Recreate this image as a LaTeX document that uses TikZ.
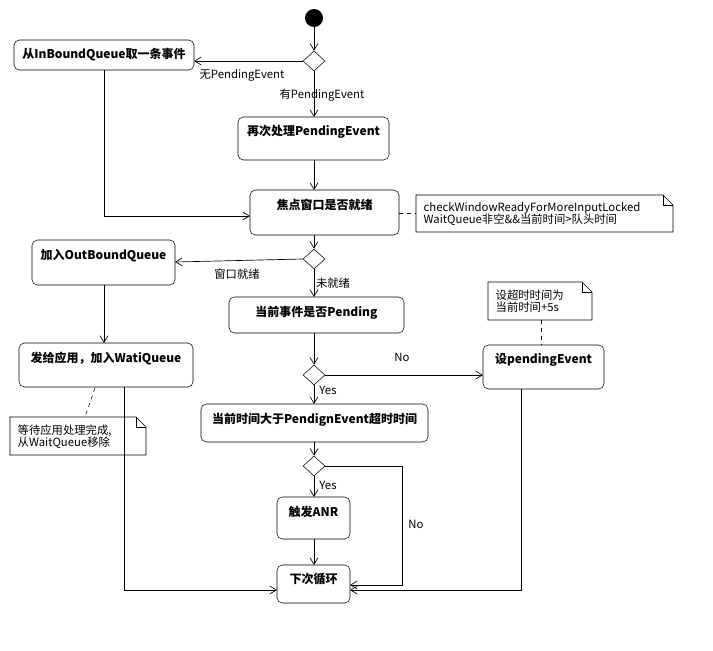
\documentclass[tikz,border=0pt]{standalone}
\usepackage{fontspec}
\setmainfont{Noto Sans CJK SC}
\usetikzlibrary{arrows.meta,shapes.geometric}
\begin{document}
\begin{tikzpicture}[x=0.75pt,y=-0.75pt,
  act/.style={draw,rounded corners=4pt,font=\bfseries\fontsize{9}{10}\selectfont,inner sep=0pt},
  dia/.style={draw,diamond,minimum width=16.5pt,minimum height=15pt,inner sep=0pt},
  arr/.style={-{Straight Barb[length=5pt,width=6pt]},line width=0.5pt},
  lab/.style={font=\fontsize{8.5}{10}\selectfont,inner sep=1pt},
  notebox/.style={font=\fontsize{8.5}{11}\selectfont,align=left}]
\useasboundingbox (0,0) rectangle (713,650);
\newcommand{\actbox}[6]{% name, x1,y1,x2,y2,text
  \draw[rounded corners=4pt] (#2,#3) rectangle (#4,#5);
  \coordinate (#1) at ({(#2+#4)/2},{(#3+#5)/2});
  \node[font=\bfseries\fontsize{9}{10}\selectfont,anchor=north] at ({(#2+#4)/2},{#3+4}) {#6};}
\newcommand{\notebx}[5]{% x1 y1 x2 y2 text
  \draw (#1,#2) -- ({#3-10},#2) -- (#3,{#2+10}) -- (#3,#4) -- (#1,#4) -- cycle;
  \draw ({#3-10},#2) -- ({#3-10},{#2+10}) -- (#3,{#2+10});
  \node[notebox,anchor=north west] at ({#1+3},{#2+3}) {#5};}
\fill (314,18) circle (6.75pt) coordinate (start);
\node[dia] (d1) at (314,61) {};
\node[dia] (d2) at (314,259) {};
\node[dia] (d3) at (314,375) {};
\node[dia] (d4) at (314,466) {};
\actbox{b1}{14}{40}{194}{70}{从InBoundQueue取一条事件}
\actbox{b2}{238}{117}{389}{160}{再次处理PendingEvent}
\actbox{b3}{250}{190}{399}{235}{焦点窗口是否就绪}
\actbox{b4}{32}{240}{175}{285}{加入OutBoundQueue}
\actbox{b5}{229}{297}{404}{333}{当前事件是否Pending}
\actbox{b6}{19}{343}{193}{387}{发给应用，加入WatiQueue}
\actbox{b7}{483}{345}{604}{389}{设pendingEvent}
\actbox{b8}{201}{404}{428}{442}{当前时间大于PendignEvent超时时间}
\actbox{b9}{277}{497}{350}{539}{触发ANR}
\actbox{b10}{277}{565}{350}{603}{下次循环}
\notebx{416}{195}{673}{232}{checkWindowReadyForMoreInputLocked\\[-2pt]WaitQueue非空\&\&当前时间>队头时间}
\notebx{10}{417}{146}{455}{等待应用处理完成,\\[-2pt]从WaitQueue移除}
\notebx{488}{282}{592}{320}{设超时时间为\\[-2pt]当前时间+5s}
\draw[dashed] (399,213) -- (416,213);
\draw[dashed] (95,388) -- (85,417);
\draw[dashed] (541,320) -- (541,345);
\draw[arr] (314,27) -- (d1.north);
\draw[arr] (d1.west) -- (194,61);
\node[lab,anchor=west] at (198,75) {无PendingEvent};
\draw[arr] (d1.south) -- (314,117);
\node[lab,anchor=west] at (278,95) {有PendingEvent};
\draw[arr] (314,160) -- (314,190);
\draw[arr] (104,70) -- (104,216) -- (250,216);
\draw[arr] (314,235) -- (d2.north);
\draw[arr] (d2.west) -- (175,262);
\node[lab] at (237,274) {窗口就绪};
\draw[arr] (d2.south) -- (314,297);
\node[lab] at (333,283) {未就绪};
\draw[arr] (104,285) -- (104,343);
\draw[arr] (314,333) -- (d3.north);
\draw[arr] (d3.east) -- (483,375);
\node[lab] at (402,357) {No};
\draw[arr] (d3.south) -- (314,404);
\node[lab] at (328,390) {Yes};
\draw[arr] (314,442) -- (d4.north);
\draw[arr] (d4.south) -- (314,497);
\node[lab] at (328,485) {Yes};
\draw[arr] (d4.east) -- (402,466) -- (402,585) -- (350,585);
\node[lab] at (416,524) {No};
\draw[arr] (314,539) -- (314,565);
\draw[arr] (124,387) -- (124,590) -- (277,590);
\draw[arr] (521,389) -- (521,590) -- (350,590);
\end{tikzpicture}
\end{document}
